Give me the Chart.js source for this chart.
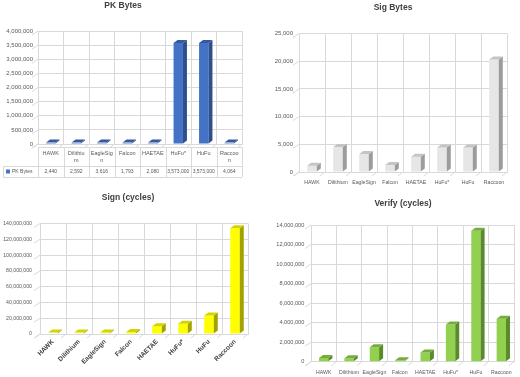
<!DOCTYPE html>
<html><head><meta charset="utf-8">
<script src="https://cdn.jsdelivr.net/npm/chart.js@4.4.1/dist/chart.umd.min.js"></script>
<style>
html,body{margin:0;padding:0;background:#fff;width:520px;height:377px;overflow:hidden}
.box{position:absolute}
canvas{display:block}
</style></head><body>
<div class="box" style="left:0;top:0"><canvas id="c1" width="258" height="188"></canvas></div>
<div class="box" style="left:258px;top:0"><canvas id="c2" width="262" height="190"></canvas></div>
<div class="box" style="left:0;top:190px"><canvas id="c3" width="260" height="187"></canvas></div>
<div class="box" style="left:260px;top:190px"><canvas id="c4" width="260" height="187"></canvas></div>
<script>
// ---- data ----
const categories = ["HAWK","Dilithium","EagleSign","Falcon","HAETAE","HuFu*","HuFu","Raccoon"];
const pkTableLabels = [["HAWK"],["Dilithiu","m"],["EagleSig","n"],["Falcon"],["HAETAE"],["HuFu*"],["HuFu"],["Raccoo","n"]];
const pkBytes = [2440, 2592, 3616, 1793, 2080, 3573000, 3573000, 4064];
const sigBytes = [1150, 4500, 3250, 1250, 2750, 4400, 4400, 20300];
const signCycles = [600000, 900000, 1300000, 2600000, 9700000, 13000000, 23500000, 134000000];
const verifyCycles = [370000, 350000, 1470000, 150000, 950000, 3800000, 13400000, 4400000];

const FONT = "'Liberation Sans Narrow','Liberation Sans',Arial,sans-serif";
const GRID = '#d9d9d9';
const fmt = v => Number(v).toLocaleString('en-US');

const bar3d = {
  id: 'bar3d',
  afterDatasetsDraw(chart, args, opts) {
    const ctx = chart.ctx, dx = opts.dx, dy = opts.dy;
    chart.data.datasets.forEach((ds, di) => {
      chart.getDatasetMeta(di).data.forEach(el => {
        const p = el.getProps(['x','y','base','width'], true);
        const l = p.x - p.width/2, r = p.x + p.width/2;
        const y = Math.min(p.y, p.base - 1);
        ctx.save();
        ctx.fillStyle = opts.side;
        ctx.beginPath(); ctx.moveTo(r, y); ctx.lineTo(r+dx, y-dy); ctx.lineTo(r+dx, p.base-dy); ctx.lineTo(r, p.base); ctx.closePath(); ctx.fill();
        ctx.fillStyle = opts.top;
        ctx.beginPath(); ctx.moveTo(l, y); ctx.lineTo(l+dx, y-dy); ctx.lineTo(r+dx, y-dy); ctx.lineTo(r, y); ctx.closePath(); ctx.fill();
        ctx.restore();
      });
    });
  }
};

const wallTicks = {
  id: 'wallTicks',
  beforeDatasetsDraw(chart) {
    const ctx = chart.ctx, a = chart.chartArea, ys = chart.scales.y, xs = chart.scales.x;
    ctx.save();
    ctx.strokeStyle = GRID; ctx.lineWidth = 1;
    ys.ticks.forEach((t, i) => {
      const py = ys.getPixelForTick(i);
      ctx.beginPath(); ctx.moveTo(a.left - 6, py + 4); ctx.lineTo(a.left, py); ctx.stroke();
    });
    const n = chart.data.labels.length;
    const w = (a.right - a.left) / n;
    for (let i = 0; i <= n; i++) {
      const px = xs.getPixelForValue(0) - w/2 + i*w;
      ctx.beginPath(); ctx.moveTo(px - 5, a.bottom + 4); ctx.lineTo(px, a.bottom); ctx.stroke();
    }
    ctx.restore();
  }
};

const myTitle = {
  id: 'myTitle',
  afterDraw(chart, args, opts) {
    const ctx = chart.ctx;
    ctx.save();
    ctx.fillStyle = '#404040';
    ctx.font = 'bold 8.5px ' + FONT;
    ctx.textAlign = 'center'; ctx.textBaseline = 'middle';
    ctx.fillText(opts.text, opts.x, opts.y);
    ctx.restore();
  }
};

const dataTable = {
  id: 'dataTable',
  afterDraw(chart, args, opts) {
    if (!opts.enabled) return;
    const ctx = chart.ctx, a = chart.chartArea, xs = chart.scales.x;
    const n = chart.data.labels.length, w = (a.right - a.left) / n;
    const y0 = a.bottom + 3, y1 = a.bottom + 22, y2 = a.bottom + 33;
    ctx.save();
    ctx.strokeStyle = GRID; ctx.lineWidth = 1;
    ctx.beginPath();
    ctx.moveTo(a.left, y0 + .5); ctx.lineTo(a.right, y0 + .5);
    ctx.moveTo(3, y1 + .5); ctx.lineTo(a.right, y1 + .5);
    ctx.moveTo(3, y2 + .5); ctx.lineTo(a.right, y2 + .5);
    ctx.moveTo(3.5, y1); ctx.lineTo(3.5, y2);
    for (let i = 0; i <= n; i++) {
      const px = Math.round(xs.getPixelForValue(0) - w/2 + i*w) + .5;
      ctx.moveTo(px, y0); ctx.lineTo(px, y2);
    }
    ctx.stroke();
    ctx.fillStyle = '#595959';
    ctx.font = '5.5px ' + FONT;
    ctx.textAlign = 'center'; ctx.textBaseline = 'middle';
    opts.rows.forEach((lines, i) => {
      const cx = xs.getPixelForValue(i);
      lines.forEach((s, k) => ctx.fillText(s, cx, y0 + 6 + k*7));
    });
    ctx.font = '5px ' + FONT;
    chart.data.datasets[0].data.forEach((v, i) => {
      ctx.fillText(fmt(v), xs.getPixelForValue(i), (y1 + y2)/2 + 0.5);
    });
    ctx.fillStyle = chart.data.datasets[0].backgroundColor;
    ctx.fillRect(6, (y1+y2)/2 - 2, 4, 4);
    ctx.fillStyle = '#595959';
    ctx.textAlign = 'left';
    ctx.fillText(chart.data.datasets[0].label, 12, (y1 + y2)/2 + 0.5);
    ctx.restore();
  }
};

function make(id, label, values, s) {
  return new Chart(document.getElementById(id), {
    type: 'bar',
    data: { labels: categories, datasets: [{
      label: label, data: values, backgroundColor: s.front, borderWidth: 0,
      categoryPercentage: 0.8, barPercentage: 0.46
    }]},
    options: {
      responsive: false, animation: false,
      layout: { padding: { left: 0, right: s.R, top: s.top, bottom: 0 } },
      plugins: {
        legend: { display: false }, tooltip: { enabled: false }, title: { display: false },
        myTitle: { text: label, x: s.tx, y: s.ty },
        bar3d: { dx: 4, dy: 3, side: s.side, top: s.topc },
        dataTable: { enabled: !!s.table, rows: s.table || [] }
      },
      scales: {
        x: {
          grid: { color: GRID, drawTicks: false },
          border: { color: GRID },
          ticks: s.xticks,
          afterFit(sc) { sc.height = s.xh; }
        },
        y: {
          min: 0, max: s.max,
          grid: { color: GRID, drawTicks: false },
          border: { color: GRID },
          ticks: { stepSize: s.step, padding: s.yp, color: '#595959',
            font: { family: FONT, size: s.yf || 6 }, callback: v => fmt(v) },
          afterFit(sc) { sc.width = s.yw; }
        }
      }
    },
    plugins: [wallTicks, bar3d, dataTable, myTitle]
  });
}

const smallTicks = { color: '#595959', font: { family: FONT, size: 5.2 }, maxRotation: 0, minRotation: 0, autoSkip: false };

make('c1', 'PK Bytes', pkBytes, {
  front: '#4472c4', side: '#2c4f8f', topc: '#33599e',
  R: 16, yw: 38, yp: 5, top: 31, tx: 123, ty: 6, xh: 44, max: 4000000, step: 500000,
  xticks: { display: false }, table: pkTableLabels
});
make('c2', 'Sig Bytes', sigBytes, {
  front: '#e6e6e6', side: '#9c9c9c', topc: '#c4c4c4',
  R: 13, yw: 41, yp: 6, top: 33.5, tx: 135, ty: 7.5, xh: 18, max: 25000, step: 5000,
  xticks: Object.assign({ padding: 7 }, smallTicks)
});
make('c3', 'Sign (cycles)', signCycles, {
  front: '#ffff00', side: '#a3a300', topc: '#d4d400',
  R: 12, yw: 40, yp: 8, yf: 5.2, top: 33.5, tx: 128, ty: 7.3, xh: 43, max: 140000000, step: 20000000,
  xticks: { padding: 4, color: '#404040', font: { family: FONT, size: 6.5, weight: 'bold' }, maxRotation: 45, minRotation: 45, autoSkip: false }
});
make('c4', 'Verify (cycles)', verifyCycles, {
  front: '#92d050', side: '#5a8a2a', topc: '#74ad3a',
  R: 6, yw: 51, yp: 6.7, yf: 5.6, top: 35, tx: 143, ty: 13.3, xh: 15.3, max: 14000000, step: 2000000,
  xticks: Object.assign({ padding: 7.4 }, smallTicks)
});
</script>
</body></html>
